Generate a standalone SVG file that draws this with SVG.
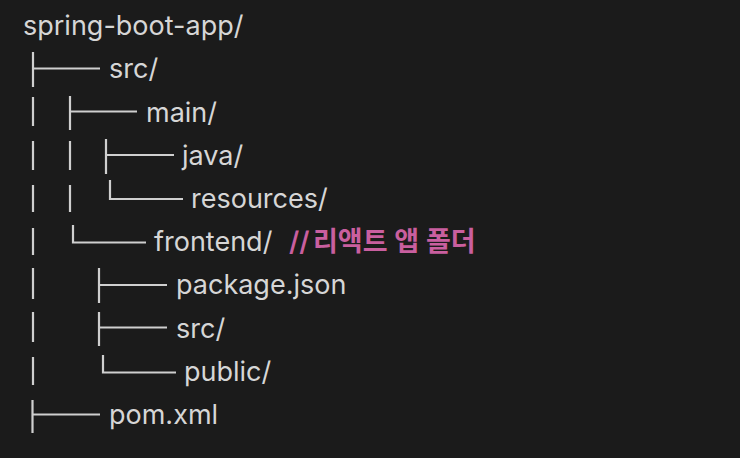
<svg xmlns="http://www.w3.org/2000/svg" width="740" height="458" viewBox="0 0 740 458">
<style>
.t{font-family:Inter,"Noto Sans","Noto Sans CJK KR",sans-serif;font-size:27px;fill:#d6d6d6}
.c{font-family:Inter,"Noto Sans CJK KR",sans-serif;font-size:27px;fill:#c95f9f;font-weight:600}
.l{stroke:#cfcfcf;stroke-width:2.2;fill:none}
</style>
<rect width="740" height="458" fill="#1b1b1b"/>
<g id="connectors" class="l">
<path d="M33 52V87M33 68.5H100"/>
<path d="M33 97V126M70 96V130M70 111.5H137"/>
<path d="M33 141V170M70 141V170M106 139V174M106 155H174"/>
<path d="M33 185V212M70 185V212M110 180V199H183"/>
<path d="M33 228V255M73 225V242.5H146"/>
<path d="M33 268V299M99 268V303M99 285H167"/>
<path d="M33 312V342M99 312V346M99 327.5H167"/>
<path d="M33 357V385M103 355V372.5H176"/>
<path d="M32.5 400V433M32.5 414.5H100"/>
</g>
<g id="n-root"><text class="t" x="23" y="35">spring-boot-app/</text></g>
<g id="n-src"><text class="t" x="109" y="78">src/</text></g>
<g id="n-main"><text class="t" x="146" y="121.5">main/</text></g>
<g id="n-java"><text class="t" x="182" y="164.6">java/</text></g>
<g id="n-resources"><text class="t" x="191" y="207.8">resources/</text></g>
<g id="n-frontend"><text class="t" x="154" y="251">frontend/</text><text class="c" x="289" y="251">//</text><text class="c" x="313" y="251">리액트 앱 폴더</text></g>
<g id="n-package"><text class="t" x="176" y="294">package.json</text></g>
<g id="n-src2"><text class="t" x="176" y="337.5">src/</text></g>
<g id="n-public"><text class="t" x="184" y="380.7">public/</text></g>
<g id="n-pom"><text class="t" x="109" y="424">pom.xml</text></g>
</svg>
